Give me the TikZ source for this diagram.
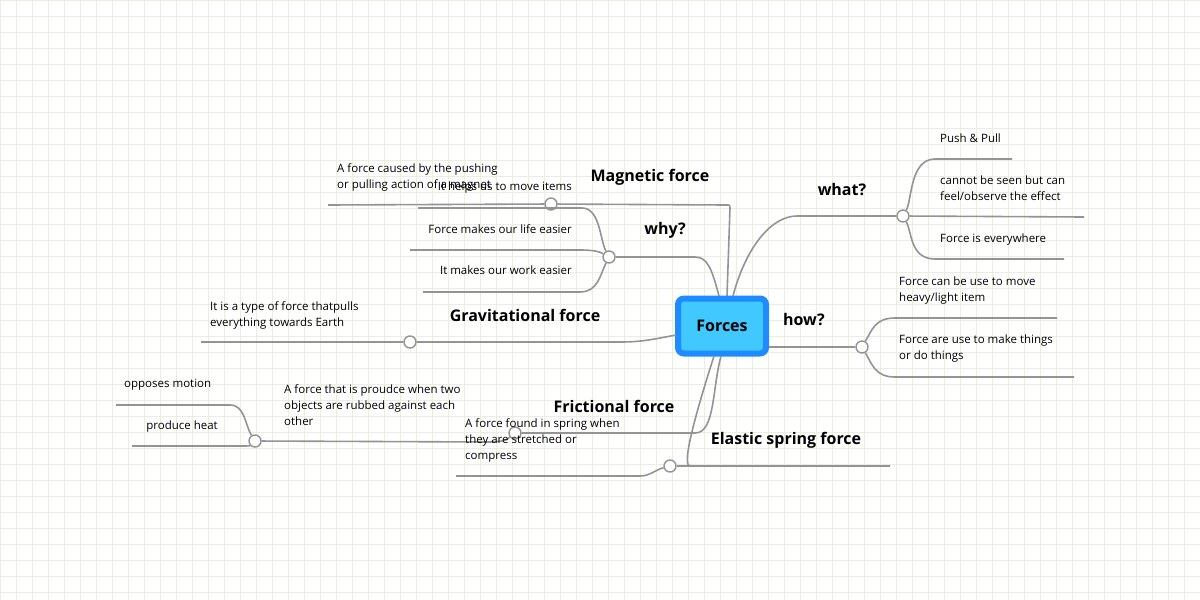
\documentclass[tikz,border=0pt]{standalone}
\usepackage{fontspec}
\setmainfont{Open Sans}
\begin{document}
\begin{tikzpicture}[x=1pt,y=-1pt,
  ln/.style={draw=black!42,line width=1.6pt},
  dot/.style={circle,draw=black!42,line width=1.4pt,fill=white,minimum size=12pt,inner sep=0pt},
  sm/.style={anchor=north west,inner sep=0pt,font=\fontsize{11.5}{16}\selectfont,align=left},
  smr/.style={anchor=north east,inner sep=0pt,font=\fontsize{11.5}{16}\selectfont,align=right},
  bl/.style={inner sep=0pt,font=\bfseries\fontsize{16}{20}\selectfont}]
\useasboundingbox (0,0) rectangle (1200,600);
\fill[white] (0,0) rectangle (1200,600);
\foreach \i in {0,16,...,1200} \draw[color={rgb,255:red,230;green,240;blue,220},line width=0.8pt] (\i,0) -- (\i,600);
\foreach \i in {0,16,...,600} \draw[color={rgb,255:red,230;green,240;blue,220},line width=0.8pt] (0,\i) -- (1200,\i);
% center
\node[draw={rgb,255:red,30;green,140;blue,255},line width=6pt,fill={rgb,255:red,64;green,200;blue,255},rounded corners=6pt,minimum width=88pt,minimum height=55pt,font=\bfseries\fontsize{16}{20}\selectfont] (F) at (722,326) {Forces};
% dots
\node[dot] (dwhat) at (903,216) {};
\node[dot] (dhow) at (862,347) {};
\node[dot] (dwhy) at (609,257) {};
\node[dot] (dmag) at (551,204) {};
\node[dot] (dgrav) at (410,342) {};
\node[dot] (dfric) at (515,433) {};
\node[dot] (dfric2) at (255,441) {};
\node[dot] (dspr) at (670,466) {};
% labels
\node[bl] at (842,190) {what?};
\node[bl] at (804,320) {how?};
\node[bl] at (665,230) {why?};
\node[bl] at (650,177) {Magnetic force};
\node[bl] at (525,315) {Gravitational force};
\node[bl] at (614,406) {Frictional force};
\node[bl] at (786,440) {Elastic spring force};
% what
\draw[ln] (733,296) .. controls (745,250) and (770,216) .. (797,216) -- (dwhat);
\draw[ln] (dwhat) .. controls (912,200) and (910,159) .. (935,159) -- (1012,159);
\draw[ln] (dwhat) -- (1084,217);
\draw[ln] (dwhat) .. controls (912,232) and (910,259) .. (935,259) -- (1064,259);
\node[sm] at (940,134) {Push \& Pull};
\node[sm] at (940,176) {cannot be seen but can\\feel/observe the effect};
\node[sm] at (940,234) {Force is everywhere};
% how
\draw[ln] (769,347) -- (dhow);
\draw[ln] (dhow) .. controls (872,330) and (875,318) .. (895,318) -- (1057,318);
\draw[ln] (dhow) .. controls (872,364) and (875,377) .. (895,377) -- (1074,377);
\node[sm] at (899,277) {Force can be use to move\\heavy/light item};
\node[sm] at (899,335) {Force are use to make things\\or do things};
% why
\draw[ln] (719,296) .. controls (712,270) and (708,257) .. (695,257) -- (dwhy);
\draw[ln] (dwhy) .. controls (600,240) and (600,208) .. (582,208) -- (418,208);
\draw[ln] (dwhy) .. controls (600,252) and (595,250) .. (580,250) -- (410,250);
\draw[ln] (dwhy) .. controls (600,275) and (598,292) .. (580,292) -- (423,292);
\node[smr] at (572,182) {It helps us to move items};
\node[smr] at (572,224) {Force makes our life easier};
\node[smr] at (572,266) {It makes our work easier};
% magnetic
\draw[ln] (727,296) -- (730,208) .. controls (730,205) .. (726,205) -- (dmag) -- (328,205);
\node[sm] at (337,163) {A force caused by the pushing\\or pulling action of a magnet};
% gravitational
\draw[ln] (676,335) .. controls (650,340) and (640,342) .. (620,342) -- (dgrav) -- (201,342);
\node[sm] at (210,301) {It is a type of force thatpulls\\everything towards Earth};
% frictional
\draw[ln] (721,356) .. controls (712,390) and (715,433) .. (695,433) -- (dfric);
\draw[ln] (dfric) .. controls (505,441) .. (490,442) -- (dfric2);
\draw[ln] (dfric2) .. controls (245,425) and (245,405) .. (230,405) -- (116,405);
\draw[ln] (dfric2) .. controls (250,446) and (245,446) .. (232,446) -- (132,446);
\node[sm] at (284,384) {A force that is proudce when two\\objects are rubbed against each\\other};
\node[sm] at (124,379) {opposes motion};
\node[smr] at (218,421) {produce heat};
% spring
\draw[ln] (714,356) .. controls (700,400) and (680,466) .. (690,466) -- (890,466);
\draw[ln] (dspr) -- (690,466);
\draw[ln] (dspr) .. controls (655,470) and (650,476) .. (640,476) -- (456,476);
\node[sm] at (465,418) {A force found in spring when\\they are stretched or\\compress};
\end{tikzpicture}
\end{document}
